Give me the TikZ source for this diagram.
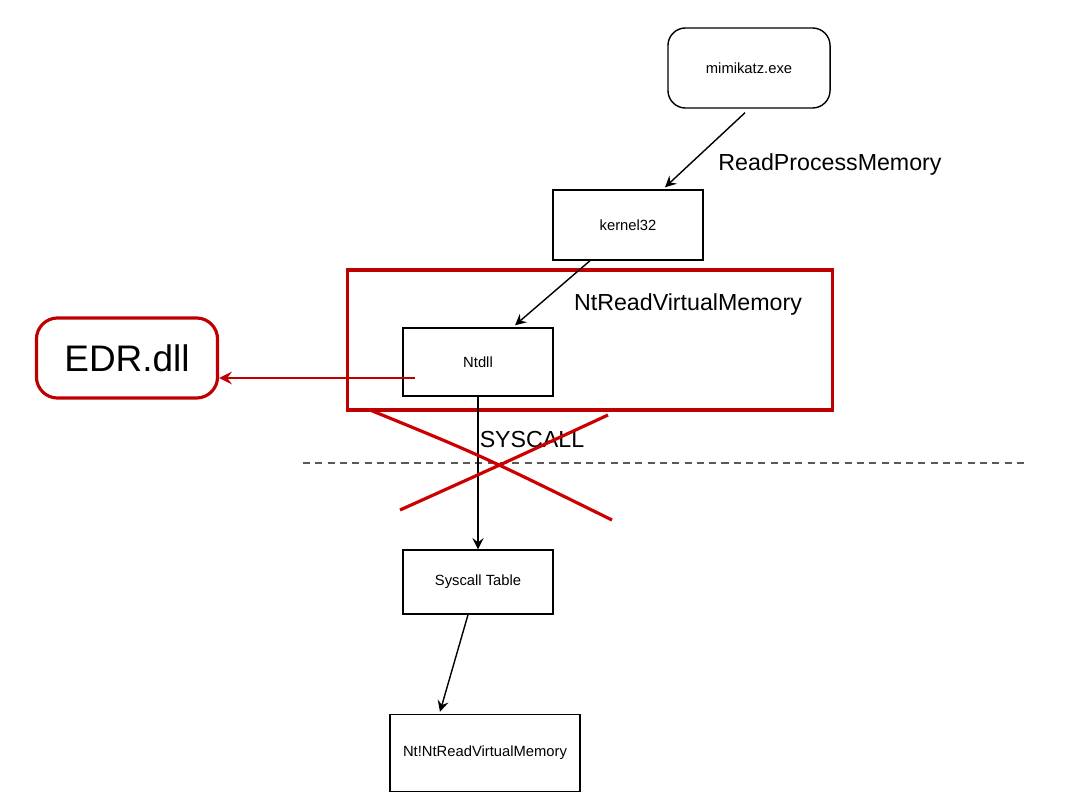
\documentclass[tikz,border=0pt]{standalone}
\usepackage{fontspec}
\setmainfont{Liberation Sans}
\usetikzlibrary{arrows}
\begin{document}
\begin{tikzpicture}[x=0.01cm,y=-0.01cm,>=stealth]
	\tikzstyle{box} = [draw, shape=rectangle, line width=0.4pt, font=\fontsize{4.2}{5}\selectfont, inner sep=0pt]
	\tikzstyle{lbl} = [font=\fontsize{6.6}{8}\selectfont, inner sep=0pt]
	\tikzstyle{hook} = [draw=red!75!black, line width=0.9pt]
	\useasboundingbox (0,0) rectangle (1080,810);
	%Creating Blocks
	\node [box, rounded corners=5pt, minimum width=1.62cm, minimum height=0.8cm] at (749,68) (mimikatz) {mimikatz.exe};
	\node [box, minimum width=1.5cm, minimum height=0.7cm] at (628,225) (kernel) {kernel32};
	\node [box, minimum width=1.5cm, minimum height=0.68cm] at (478,362) (ntdll) {Ntdll};
	\node [box, minimum width=1.5cm, minimum height=0.64cm] at (478,582) (table) {Syscall Table};
	\node [box, minimum width=1.9cm, minimum height=0.77cm] at (485,753) (ntread) {Nt!NtReadVirtualMemory};
	\node [hook, rounded corners=6pt, minimum width=1.81cm, minimum height=0.8cm, font=\fontsize{10.5}{12}\selectfont] at (127,358) (edr) {EDR.dll};
	\node [hook, minimum width=4.85cm, minimum height=1.4cm] at (590,340) (usermode) {};
	%Labels
	\node [lbl] at (830,165) (rpm) {ReadProcessMemory};
	\node [lbl] at (688,305) (nrvm) {NtReadVirtualMemory};
	\node [lbl] at (532,440) (sys) {SYSCALL};
	\coordinate (tapL) at (303,463);
	\coordinate (tapR) at (1027,463);
	\coordinate (hookin) at (415,378);
	%Conecting Blocks
	\draw[dash pattern=on 2pt off 1.5pt, gray!70!black, line width=0.4pt] (tapL) -- (tapR);
	\draw[->] ([xshift=-0.04cm,yshift=-0.04cm]mimikatz.south) -- ([xshift=0.37cm,yshift=0.02cm]kernel.north);
	\draw[->] ([xshift=-0.38cm]kernel.south) -- ([xshift=0.37cm,yshift=0.02cm]ntdll.north);
	\draw[->] (ntdll.south) -- (table.north);
	\draw[->] ([xshift=-0.1cm]table.south) -- ([xshift=-0.45cm,yshift=0.02cm]ntread.north);
	\draw[->, red!75!black, line width=0.6pt] (hookin) -- (edr.east |- hookin);
	\begin{scope}[red!80!black, line width=0.9pt]
	\draw (370,410) .. controls (480,455) .. (612,520);
	\draw (400,510) .. controls (500,465) .. (608,415);
	\end{scope}
\end{tikzpicture}
\end{document}
